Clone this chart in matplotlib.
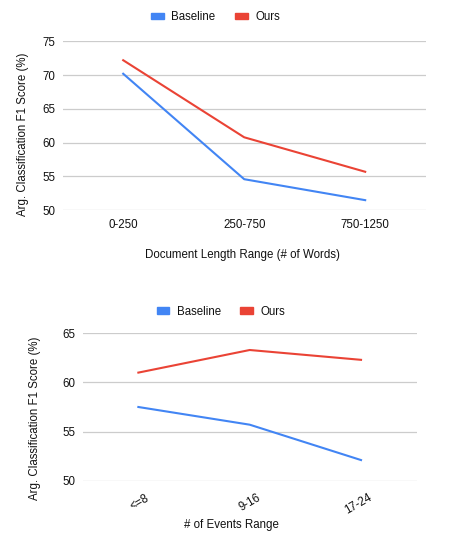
import matplotlib.pyplot as plt
from matplotlib.patches import Patch
from matplotlib.transforms import ScaledTranslation

plt.rcParams['font.family'] = ['Liberation Sans', 'DejaVu Sans']

# dados
comprimento = ['0-250', '250-750', '750-1250']
baseline_comp = [70.2, 54.6, 51.5]
ours_comp = [72.2, 60.8, 55.7]

eventos = ['<=8', '9-16', '17-24']
baseline_ev = [57.5, 55.7, 52.1]
ours_ev = [61.0, 63.3, 62.3]

azul = '#4285F4'
vermelho = '#EA4335'
cinza = '#cccccc'
texto = '#111111'
fs = 8.3

W, H = 456, 538
fig = plt.figure(figsize=(W / 100, H / 100), dpi=100)


def eixo(x0, x1, y0, y1):
    return fig.add_axes([x0 / W, 1 - y1 / H, (x1 - x0) / W, (y1 - y0) / H])


def estilo(ax, yticks):
    for s in ax.spines.values():
        s.set_visible(False)
    ax.set_yticks(yticks)
    ax.set_ylim(yticks[0], yticks[-1])
    ax.set_xlim(-0.5, 2.5)
    ax.grid(axis='y', color=cinza, linewidth=0.9)
    ax.set_axisbelow(True)
    ax.tick_params(length=0, labelsize=fs, labelcolor=texto)
    ax.tick_params(axis='y', pad=5)


# grafico de cima
ax1 = eixo(62.7, 425.7, 41.3, 210.3)
ax1.plot(range(3), baseline_comp, color=azul, linewidth=1.5)
ax1.plot(range(3), ours_comp, color=vermelho, linewidth=1.5)
estilo(ax1, [50, 55, 60, 65, 70, 75])
ax1.set_xticks(range(3))
ax1.set_xticklabels(comprimento)
ax1.tick_params(axis='x', pad=6)
fig.text(242 / W, 1 - 255 / H, 'Document Length Range (# of Words)',
         ha='center', va='center', fontsize=fs, color=texto)
fig.text(23 / W, 1 - 134 / H, 'Arg. Classification F1 Score (%)',
         ha='center', va='center', rotation=90, fontsize=fs, color=texto)

# grafico de baixo
ax2 = eixo(82.7, 416.7, 333.3, 480.7)
ax2.plot(range(3), baseline_ev, color=azul, linewidth=1.5)
ax2.plot(range(3), ours_ev, color=vermelho, linewidth=1.5)
estilo(ax2, [50, 55, 60, 65])
ax2.set_xticks(range(3))
ax2.set_xticklabels(eventos, rotation=30, ha='right', rotation_mode='anchor')
ax2.tick_params(axis='x', pad=8)
for lab in ax2.get_xticklabels():
    lab.set_transform(lab.get_transform() + ScaledTranslation(0.07, 0, fig.dpi_scale_trans))
fig.text(231 / W, 1 - 525 / H, '# of Events Range',
         ha='center', va='center', fontsize=fs, color=texto)
fig.text(35 / W, 1 - 418 / H, 'Arg. Classification F1 Score (%)',
         ha='center', va='center', rotation=90, fontsize=fs, color=texto)

handles = [Patch(color=azul, label='Baseline'), Patch(color=vermelho, label='Ours')]
for cx, cy in [(215.7, 17.3), (221, 311.7)]:
    fig.legend(handles=handles, loc='center', bbox_to_anchor=(cx / W, 1 - cy / H),
               ncol=2, frameon=False, fontsize=fs, handlelength=1.1, handleheight=0.45,
               handletextpad=0.65, columnspacing=1.7, labelcolor=texto)

fig.savefig('out.png', dpi=100)
